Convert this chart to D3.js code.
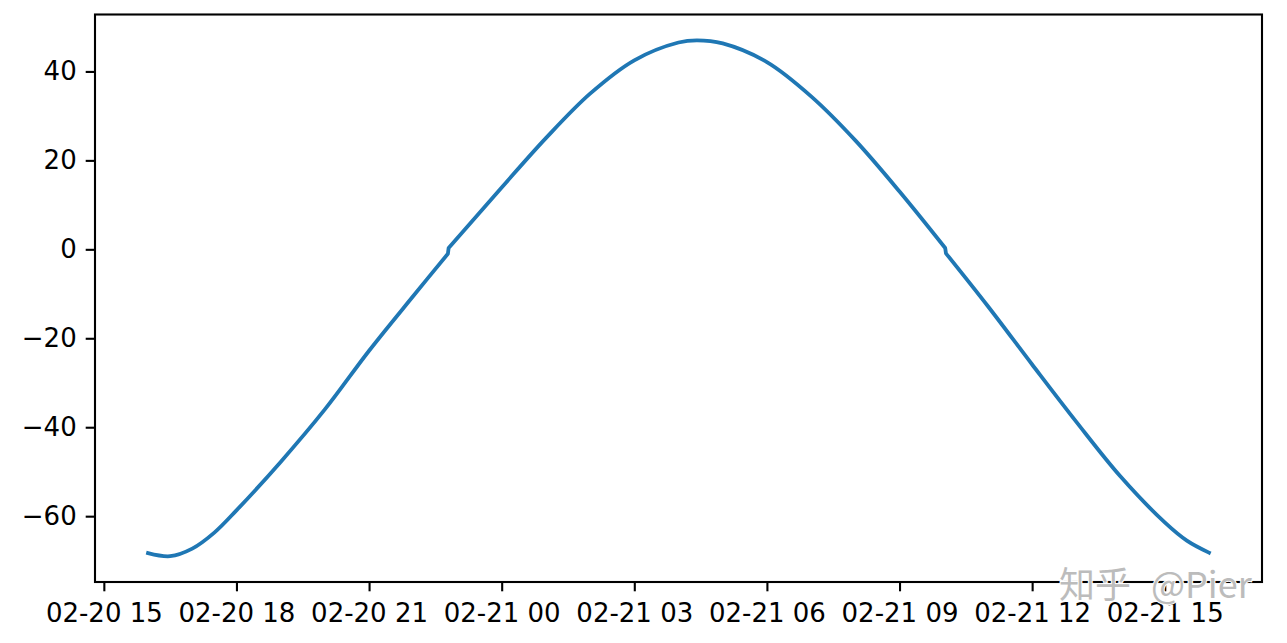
<!DOCTYPE html>
<html>
<head>
<meta charset="utf-8">
<script src="https://cdn.jsdelivr.net/npm/d3@7"></script>
<style>
  html, body { margin: 0; padding: 0; background: #fff; }
  svg { display: block; }
</style>
</head>
<body>
<svg id="chart" width="1287" height="643"></svg>
<script>
// ---- data ----
// segment before sunrise
const timesNight1 = ["2021-02-20 16:00","2021-02-20 16:30","2021-02-20 17:00","2021-02-20 17:30",
  "2021-02-20 18:00","2021-02-20 19:00","2021-02-20 20:00","2021-02-20 21:00","2021-02-20 22:00",
  "2021-02-20 22:47"];
const elevNight1 = [-68.3,-69.0,-67.3,-63.7,-58.7,-47.8,-36.0,-22.8,-10.5,-1.0];
// daytime segment (refraction included above the horizon)
const timesDay = ["2021-02-20 22:48","2021-02-21 00:00","2021-02-21 01:00","2021-02-21 02:00",
  "2021-02-21 03:00","2021-02-21 04:00","2021-02-21 04:25","2021-02-21 05:00","2021-02-21 06:00",
  "2021-02-21 07:00","2021-02-21 08:00","2021-02-21 09:00","2021-02-21 10:02"];
const elevDay = [0.3,13.9,25.0,35.0,42.5,46.5,47.0,46.3,42.1,34.4,24.5,13.0,0.3];
// segment after sunset
const timesNight2 = ["2021-02-21 10:03","2021-02-21 11:00","2021-02-21 12:00","2021-02-21 13:00",
  "2021-02-21 14:00","2021-02-21 15:00","2021-02-21 15:30","2021-02-21 16:00"];
const elevNight2 = [-0.9,-12.8,-25.9,-38.8,-51.1,-61.4,-65.5,-68.2];

const yTickValues = [-60,-40,-20,0,20,40];
const xTickFormat = "%m-%d %H";
const watermarkParts = ["知乎", "@Pier"];

// ---- layout ----
const W = 1287, H = 643;
const plot = {left: 95, top: 14.5, right: 1262, bottom: 582};
const FONT = "'DejaVu Sans', sans-serif";

const parse = d3.timeParse("%Y-%m-%d %H:%M");
const seg = (ts, vs) => ts.map((t, i) => ({t: parse(t), v: vs[i]}));
const segments = [seg(timesNight1, elevNight1), seg(timesDay, elevDay), seg(timesNight2, elevNight2)];
const all = segments.flat();

const [t0, t1] = d3.extent(all, d => d.t);
const tp = (t1 - t0) * 0.05;
const x = d3.scaleTime().domain([new Date(+t0 - tp), new Date(+t1 + tp)]).range([plot.left, plot.right]);
const [v0, v1] = d3.extent(all, d => d.v);
const vp = (v1 - v0) * 0.05;
const y = d3.scaleLinear().domain([v0 - vp, v1 + vp]).range([plot.bottom, plot.top]);

const svg = d3.select("#chart");
svg.append("rect").attr("width", W).attr("height", H).attr("fill", "#fff");

// line: smooth within each segment, straight tiny steps between segments
const line = d3.line().x(d => x(d.t)).y(d => y(d.v)).curve(d3.curveCatmullRom.alpha(0.5));
let dstr = "";
segments.forEach((s, i) => {
  const p = line(s);
  dstr += i === 0 ? p : p.replace(/^M/, "L");
});
svg.append("path")
  .attr("d", dstr)
  .attr("fill", "none")
  .attr("stroke", "#1f77b4")
  .attr("stroke-width", 3.8)
  .attr("stroke-linejoin", "round")
  .attr("stroke-linecap", "square");

// axes
const xAxis = d3.axisBottom(x)
  .ticks(d3.timeHour.every(3))
  .tickFormat(d3.timeFormat(xTickFormat))
  .tickSize(9.3).tickPadding(12.2);
const yAxis = d3.axisLeft(y)
  .tickValues(yTickValues)
  .tickFormat(d => (d < 0 ? "\u2212" + Math.abs(d) : String(d)))
  .tickSize(9.3).tickPadding(9);

const gx = svg.append("g").attr("transform", `translate(0,${plot.bottom})`).call(xAxis);
const gy = svg.append("g").attr("transform", `translate(${plot.left},0)`).call(yAxis);
[gx, gy].forEach(g => {
  g.select(".domain").remove();
  g.selectAll(".tick line").attr("stroke", "#000").attr("stroke-width", 2.1);
  g.selectAll(".tick text").attr("fill", "#000").style("font-family", FONT).style("font-size", "26px");
});

// frame
svg.append("rect")
  .attr("x", plot.left).attr("y", plot.top)
  .attr("width", plot.right - plot.left).attr("height", plot.bottom - plot.top)
  .attr("fill", "none").attr("stroke", "#000").attr("stroke-width", 2.1);

// watermark
const wm = svg.append("text")
  .attr("y", 598)
  .style("font-family", "'Noto Sans CJK SC', 'Noto Sans', sans-serif")
  .style("font-size", "36px")
  .attr("fill", "#bcbcbc")
  .attr("stroke", "#fff").attr("stroke-width", 2)
  .attr("paint-order", "stroke fill");
wm.append("tspan").attr("x", 1059).text(watermarkParts[0]);
wm.append("tspan").attr("x", 1151).text(watermarkParts[1]);
</script>
</body>
</html>
